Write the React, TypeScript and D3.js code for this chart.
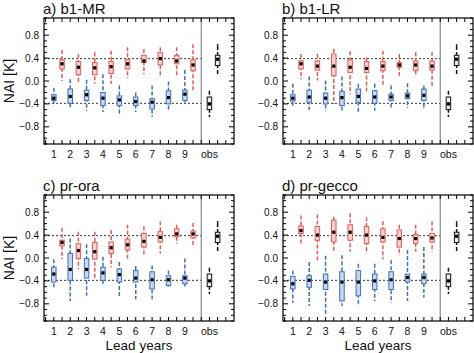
import React from "react";
import * as d3 from "d3";

// Each entry: [min, q1, median, q3, max]
const leadYears = [1, 2, 3, 4, 5, 6, 7, 8, 9];
const xTickLabels = ["1", "2", "3", "4", "5", "6", "7", "8", "9", "obs"];
const yTickValues = [-0.8, -0.4, 0.0, 0.4, 0.8];
const panelTitles = ["a)  b1-MR", "b)  b1-LR", "c)  pr-ora", "d)  pr-gecco"];
const refLines = [0.39, -0.39];

const obsCold = [-0.63, -0.5, -0.4, -0.28, -0.17];
const obsWarm = [0.12, 0.27, 0.38, 0.45, 0.61];

const aBlue = [
  [-0.43, -0.34, -0.3, -0.24, -0.12],
  [-0.47, -0.39, -0.27, -0.14, 0.03],
  [-0.52, -0.34, -0.24, -0.16, 0.02],
  [-0.54, -0.43, -0.3, -0.2, 0.12],
  [-0.6, -0.43, -0.33, -0.26, -0.08],
  [-0.54, -0.43, -0.36, -0.28, -0.2],
  [-0.63, -0.49, -0.37, -0.31, -0.08],
  [-0.52, -0.4, -0.29, -0.17, -0.01],
  [-0.37, -0.34, -0.23, -0.16, 0.19],
];
const aRed = [
  [0.0, 0.21, 0.3, 0.37, 0.54],
  [-0.02, 0.11, 0.24, 0.34, 0.47],
  [-0.05, 0.11, 0.23, 0.32, 0.5],
  [-0.05, 0.13, 0.25, 0.34, 0.53],
  [0.05, 0.21, 0.3, 0.37, 0.59],
  [0.12, 0.32, 0.35, 0.45, 0.56],
  [0.09, 0.28, 0.39, 0.5, 0.59],
  [0.09, 0.3, 0.35, 0.45, 0.59],
  [-0.18, 0.18, 0.28, 0.37, 0.64],
];
const bBlue = [
  [-0.45, -0.35, -0.3, -0.24, -0.05],
  [-0.5, -0.37, -0.28, -0.16, 0.08],
  [-0.53, -0.4, -0.3, -0.21, 0.01],
  [-0.52, -0.43, -0.29, -0.18, 0.08],
  [-0.54, -0.37, -0.27, -0.14, -0.05],
  [-0.52, -0.39, -0.28, -0.17, -0.05],
  [-0.49, -0.34, -0.28, -0.23, -0.08],
  [-0.47, -0.31, -0.26, -0.21, -0.04],
  [-0.5, -0.34, -0.25, -0.14, -0.08],
];
const bRed = [
  [0.03, 0.21, 0.3, 0.35, 0.47],
  [0.01, 0.19, 0.26, 0.35, 0.47],
  [-0.4, 0.09, 0.26, 0.47, 0.56],
  [-0.23, 0.15, 0.24, 0.37, 0.52],
  [-0.18, 0.15, 0.22, 0.34, 0.41],
  [-0.08, 0.18, 0.26, 0.34, 0.53],
  [0.09, 0.24, 0.28, 0.32, 0.47],
  [0.08, 0.18, 0.28, 0.35, 0.5],
  [-0.12, 0.19, 0.26, 0.35, 0.51],
];
const cBlue = [
  [-0.51, -0.42, -0.28, -0.16, -0.02],
  [-0.75, -0.39, -0.2, 0.08, 0.34],
  [-0.66, -0.35, -0.2, -0.01, 0.24],
  [-0.45, -0.39, -0.26, -0.16, 0.02],
  [-0.69, -0.42, -0.29, -0.19, -0.07],
  [-0.72, -0.42, -0.35, -0.22, -0.14],
  [-0.72, -0.54, -0.38, -0.24, -0.13],
  [-0.51, -0.48, -0.38, -0.31, -0.22],
  [-0.51, -0.45, -0.35, -0.31, -0.01],
];
const cRed = [
  [-0.02, 0.21, 0.27, 0.31, 0.53],
  [-0.19, -0.01, 0.13, 0.25, 0.46],
  [-0.36, -0.02, 0.11, 0.27, 0.46],
  [-0.16, 0.08, 0.18, 0.28, 0.49],
  [-0.04, 0.14, 0.23, 0.33, 0.58],
  [0.02, 0.19, 0.29, 0.43, 0.55],
  [0.08, 0.28, 0.36, 0.46, 0.64],
  [0.25, 0.37, 0.42, 0.51, 0.58],
  [0.22, 0.35, 0.42, 0.47, 0.61],
];
const dBlue = [
  [-0.78, -0.54, -0.45, -0.32, -0.22],
  [-0.84, -0.51, -0.39, -0.31, -0.07],
  [-1.01, -0.55, -0.42, -0.28, 0.04],
  [-0.84, -0.75, -0.42, -0.24, 0.05],
  [-0.84, -0.66, -0.42, -0.22, -0.1],
  [-0.75, -0.55, -0.4, -0.28, -0.1],
  [-0.78, -0.55, -0.38, -0.24, -0.04],
  [-0.75, -0.42, -0.34, -0.28, 0.14],
  [-0.69, -0.45, -0.34, -0.28, 0.19],
];
const dRed = [
  [0.22, 0.43, 0.48, 0.56, 0.74],
  [-0.07, 0.31, 0.4, 0.55, 0.76],
  [0.11, 0.28, 0.45, 0.66, 0.72],
  [0.11, 0.31, 0.45, 0.58, 0.78],
  [0.08, 0.25, 0.4, 0.55, 0.71],
  [-0.02, 0.28, 0.36, 0.51, 0.64],
  [0.05, 0.19, 0.34, 0.49, 0.58],
  [0.11, 0.25, 0.34, 0.41, 0.58],
  [0.11, 0.28, 0.35, 0.43, 0.64],
];

const blueSets = [aBlue, bBlue, cBlue, dBlue];
const redSets = [aRed, bRed, cRed, dRed];

const BLUE = "#3f6fb5";
const BLUE_FILL = "#c9d8ef";
const RED = "#e05a5a";
const RED_FILL = "#f7d2d2";
const FONT = "'Liberation Sans', Arial, Helvetica, sans-serif";

const W = 474;
const H = 353;
const PW = 190;
const PH = 126;
const origins = [
  [44, 18],
  [283, 18],
  [44, 195],
  [283, 195],
];

function Box({ x, s, y, color, fill }: any) {
  const [mn, q1, md, q3, mx] = s;
  const bw = 4.5;
  return (
    <g>
      <line x1={x} x2={x} y1={y(mx)} y2={y(mn)} stroke={color} strokeWidth={1.5} strokeDasharray="4,2" />
      <rect x={x - bw / 2} y={y(q3)} width={bw} height={y(q1) - y(q3)} fill={fill} stroke={color} strokeWidth={1} />
      <rect x={x - 1.6} y={y(md) - 1.6} width={3.2} height={3.2} fill="#000" />
    </g>
  );
}

function Panel({ idx }: { idx: number }) {
  const [ox, oy] = origins[idx];
  const x = d3.scaleLinear().domain([0.4, 12.0]).range([0, PW]);
  const y = d3.scaleLinear().domain([-1.1, 1.1]).range([PH, 0]);
  const xTicks = d3.range(0.5, 12.0, 0.5);
  const yMinor = d3.range(-11, 12).map((v) => v / 10);
  const labelPos = [...leadYears, 10.5];
  return (
    <g transform={`translate(${ox},${oy})`}>
      <text x={-1} y={-4} fontSize={15} fontFamily={FONT} fill="#111">
        {panelTitles[idx]}
      </text>
      {refLines.map((v, i) => (
        <line key={i} x1={0} x2={x(10)} y1={y(v)} y2={y(v)} stroke="#333" strokeWidth={1} strokeDasharray="2,2" />
      ))}
      <line x1={x(10)} x2={x(10)} y1={0} y2={PH} stroke="#888" strokeWidth={1.2} />
      {leadYears.map((ly, i) => (
        <g key={ly}>
          <Box x={x(ly)} s={blueSets[idx][i]} y={y} color={BLUE} fill={BLUE_FILL} />
          <Box x={x(ly + 0.5)} s={redSets[idx][i]} y={y} color={RED} fill={RED_FILL} />
        </g>
      ))}
      <Box x={x(10.5)} s={obsCold} y={y} color="#111" fill="#eee" />
      <Box x={x(11)} s={obsWarm} y={y} color="#111" fill="#eee" />
      <circle cx={x(11)} cy={y(obsWarm[4] + 0.02)} r={0.9} fill="#111" />
      {xTicks.map((t) => (
        <g key={t}>
          <line x1={x(t)} x2={x(t)} y1={PH} y2={PH - 4} stroke="#000" strokeWidth={1} />
          <line x1={x(t)} x2={x(t)} y1={0} y2={4} stroke="#000" strokeWidth={1} />
        </g>
      ))}
      {yMinor.map((t) => {
        const major = yTickValues.some((v) => Math.abs(v - t) < 1e-6);
        const len = major ? 5 : 3;
        return (
          <g key={t}>
            <line x1={0} x2={len} y1={y(t)} y2={y(t)} stroke="#000" strokeWidth={1} />
            <line x1={PW} x2={PW - len} y1={y(t)} y2={y(t)} stroke="#000" strokeWidth={1} />
          </g>
        );
      })}
      <rect x={0} y={0} width={PW} height={PH} fill="none" stroke="#000" strokeWidth={1.2} />
      {yTickValues.map((v) => (
        <text key={v} x={-5} y={y(v) + 3.5} fontSize={10} fontFamily={FONT} textAnchor="end" fill="#111">
          {d3.format(".1f")(v)}
        </text>
      ))}
      {xTickLabels.map((l, i) => (
        <text key={l} x={x(labelPos[i])} y={PH + 13.5} fontSize={10.5} fontFamily={FONT} textAnchor="middle" fill="#111">
          {l}
        </text>
      ))}
      {idx % 2 === 0 && (
        <text
          transform={`translate(${-30.5},${PH / 2}) rotate(-90)`}
          fontSize={14}
          fontFamily={FONT}
          textAnchor="middle"
          fill="#111"
        >
          NAI [K]
        </text>
      )}
      {idx >= 2 && (
        <text x={PW / 2} y={PH + 28.5} fontSize={13.5} fontFamily={FONT} textAnchor="middle" fill="#111">
          Lead years
        </text>
      )}
    </g>
  );
}

export default function App() {
  return (
    <svg width={W} height={H} style={{ display: "block", position: "absolute", left: 0, top: 0, background: "#fff" }}>
      {[0, 1, 2, 3].map((i) => (
        <Panel key={i} idx={i} />
      ))}
    </svg>
  );
}
